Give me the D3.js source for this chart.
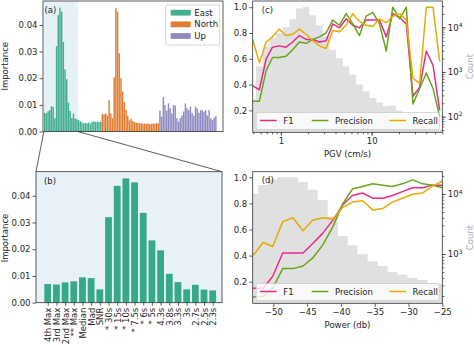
<!DOCTYPE html>
<html>
<head>
<meta charset="utf-8">
<script src="https://cdn.jsdelivr.net/npm/d3@7"></script>
<style>
  body { margin: 0; background: #fff; }
  svg text { font-family: "DejaVu Sans", sans-serif; fill: #262626; }
</style>
</head>
<body>
<svg width="474" height="345"></svg>
<script>
// feature importance, 34 features per component
var eastImp = [0.0070, 0.0068, 0.0076, 0.0080, 0.0095, 0.0092, 0.0050, 0.0320, 0.0437, 0.0465,
               0.0450, 0.0336, 0.0233, 0.0196, 0.0108, 0.0077, 0.0050, 0.0067, 0.0049, 0.0046,
               0.0043, 0.0038, 0.0035, 0.0030, 0.0033, 0.0031, 0.0034, 0.0029, 0.0036, 0.0038,
               0.0035, 0.0037, 0.0036, 0.0037];
var northImp = [0.0066, 0.0064, 0.0068, 0.0060, 0.0118, 0.0068, 0.0050, 0.0204, 0.0463, 0.0450,
                0.0294, 0.0200, 0.0150, 0.0110, 0.0080, 0.0060, 0.0042, 0.0048, 0.0040, 0.0035,
                0.0033, 0.0032, 0.0030, 0.0031, 0.0029, 0.0030, 0.0028, 0.0031, 0.0027, 0.0029,
                0.0030, 0.0028, 0.0032, 0.0030];
var upImp = [0.0078, 0.0056, 0.0129, 0.0100, 0.0078, 0.0106, 0.0087, 0.0068, 0.0100, 0.0097,
             0.0050, 0.0037, 0.0050, 0.0060, 0.0075, 0.0105, 0.0087, 0.0080, 0.0093, 0.0070,
             0.0060, 0.0093, 0.0087, 0.0070, 0.0080, 0.0080, 0.0075, 0.0080, 0.0060, 0.0080,
             0.0050, 0.0043, 0.0052, 0.0058];
var components = ["East", "North", "Up"];
// names of the first 20 east features (zoomed panel)
var featNames = ["4th Max", "3rd Max", "2nd Max", "** Max", "Median", "Mad", "SNR",
                 "* 30s", "* 15s", "* 10s", "* 7.5s", "* 6s", "* 5s", "4.3s", "3.8s",
                 "3.3s", "3s", "2.7s", "2.5s", "2.3s"];

// scores against PGV (cm/s)
var pgvBins = [0.49, 0.58, 0.69, 0.81, 0.96, 1.14, 1.35, 1.6, 1.9, 2.25, 2.66, 3.15, 3.73, 4.42, 5.24,
               6.2, 7.35, 8.7, 10.3, 12.2, 14.5, 17.1, 20.3, 24.1, 28.5, 33.8, 40, 47.4, 56.1];
var pgvCount = [245, 1350, 3700, 5750, 7400, 10200, 15100, 26300, 28800, 18600, 11200, 6200, 3160, 2040, 1350,
                870, 525, 370, 263, 204, 174, 178, 135, 112, 95, 74, 62, 58, 52];
var pgvF1 = [0.39, 0.36, 0.60, 0.69, 0.70, 0.69, 0.73, 0.78, 0.75, 0.75, 0.73, 0.74, 0.87, 0.84, 0.91,
             0.86, 0.84, 0.90, 0.90, 0.90, 0.77, 0.95, 0.92, 0.87, 0.31, 0.38, 0.66, 0.55, 0.20];
var pgvPrecision = [0.27, 0.27, 0.51, 0.61, 0.61, 0.62, 0.67, 0.73, 0.72, 0.75, 0.77, 0.80, 0.90, 0.86, 0.95,
                    0.87, 0.78, 0.93, 0.96, 0.87, 0.66, 1.00, 0.91, 1.00, 0.25, 0.37, 0.49, 0.37, 0.15];
var pgvRecall = [0.75, 0.57, 0.73, 0.77, 0.83, 0.78, 0.79, 0.83, 0.79, 0.74, 0.70, 0.68, 0.82, 0.81, 0.86,
                 0.95, 0.89, 0.86, 0.85, 0.91, 0.88, 0.93, 0.95, 0.90, 0.45, 0.41, 1.00, 1.00, 0.58];

// scores against signal power (db)
var powerBins = [-53.0, -51.5, -50.1, -48.6, -47.1, -45.6, -44.2, -42.7, -41.2, -39.7,
                 -38.3, -36.8, -35.3, -33.8, -32.4, -30.9, -29.4, -27.9, -26.5, -25.0];
var powerCount = [10000, 14100, 17400, 19000, 19000, 15800, 11700, 7900, 4200, 2000,
                  1400, 1000, 760, 630, 500, 450, 400, 370, 330, 320];
var powerF1 = [0.15, 0.15, 0.24, 0.42, 0.42, 0.42, 0.49, 0.57, 0.67, 0.79,
               0.86, 0.88, 0.84, 0.84, 0.86, 0.89, 0.92, 0.92, 0.94, 0.94];
var powerPrecision = [0.085, 0.085, 0.15, 0.30, 0.30, 0.32, 0.38, 0.48, 0.62, 0.80,
                      0.91, 0.93, 0.95, 0.94, 0.93, 0.95, 0.98, 0.95, 0.94, 0.92];
var powerRecall = [0.40, 0.50, 0.47, 0.66, 0.69, 0.59, 0.67, 0.69, 0.68, 0.77,
                   0.81, 0.82, 0.75, 0.76, 0.81, 0.84, 0.87, 0.88, 0.93, 0.97];

var compColor = {East: "#1b9e77", North: "#d95f02", Up: "#7570b3"};
var scoreColor = {F1: "#e7298a", Precision: "#66a61e", Recall: "#e6ab02"};
var fs = 8.5;
var ink = "#333";

var svg = d3.select("svg");

function styleAxis(g) {
  g.attr("font-size", fs).attr("font-family", "DejaVu Sans, sans-serif");
  g.select(".domain").remove();
  g.selectAll(".tick line").attr("stroke", ink).attr("stroke-width", 0.8);
  g.selectAll(".tick text").attr("fill", "#262626");
}

function frame(x0, y0, x1, y1) {
  svg.append("rect")
    .attr("x", x0).attr("y", y0).attr("width", x1 - x0).attr("height", y1 - y0)
    .attr("fill", "none").attr("stroke", ink).attr("stroke-width", 0.8);
}

function sup(g) {
  g.selectAll(".tick text").each(function(d) {
    var t = d3.select(this);
    t.text("10");
    t.append("tspan").attr("dy", -3.5).attr("font-size", 6).text(Math.round(Math.log10(d)));
  });
}

// ---------- (a) all features ----------
var A = {l: 43, r: 223, t: 1, b: 131.5};
var allImp = [];
components.forEach(function(c, k) {
  var arr = [eastImp, northImp, upImp][k];
  arr.forEach(function(v, i) { allImp.push({comp: c, i: k * arr.length + i, v: v}); });
});
var xa = d3.scaleLinear().domain([-1, 105.2]).range([A.l, A.r]);
var ya = d3.scaleLinear().domain([0, 0.049]).range([A.b, A.t]);

svg.append("rect")
  .attr("x", xa(-0.5)).attr("y", A.t)
  .attr("width", xa(featNames.length - 0.5) - xa(-0.5)).attr("height", A.b - A.t)
  .attr("fill", "#e6f0f7");

svg.append("g").selectAll("rect").data(allImp).enter().append("rect")
  .attr("x", function(d) { return xa(d.i - 0.42); })
  .attr("width", xa(0.84) - xa(0))
  .attr("y", function(d) { return ya(d.v); })
  .attr("height", function(d) { return A.b - ya(d.v); })
  .attr("fill", function(d) { return compColor[d.comp]; })
  .attr("fill-opacity", 0.82);

svg.append("g").attr("transform", "translate(" + A.l + ",0)")
  .call(d3.axisLeft(ya).tickValues([0, 0.01, 0.02, 0.03, 0.04]).tickFormat(d3.format(".2f")).tickSize(3.5).tickPadding(2))
  .call(styleAxis);
frame(A.l, A.t, A.r, A.b);

svg.append("text").attr("x", 5).attr("y", (A.t + A.b) / 2).attr("font-size", fs)
  .attr("text-anchor", "middle").attr("dominant-baseline", "central")
  .attr("transform", "rotate(-90,5," + (A.t + A.b) / 2 + ")").text("Importance");
svg.append("text").attr("x", 44.5).attr("y", 12.5).attr("font-size", fs).text("(a)");

// legend
var lgA = svg.append("g");
lgA.append("rect").attr("x", 165.7).attr("y", 5).attr("width", 54).attr("height", 40).attr("rx", 2)
  .attr("fill", "#fff").attr("fill-opacity", 0.8).attr("stroke", "#ccc").attr("stroke-width", 0.8);
components.forEach(function(c, k) {
  var cy = 12.7 + k * 11.65;
  lgA.append("rect").attr("x", 170.7).attr("y", cy - 2.9).attr("width", 20).attr("height", 5.8)
    .attr("fill", compColor[c]).attr("fill-opacity", 0.82);
  lgA.append("text").attr("x", 194.3).attr("y", cy + 3).attr("font-size", fs).text(c);
});

// ---------- (b) zoom on first 20 east features ----------
var B = {l: 36, r: 222, t: 171.7, b: 302.7};
var xb = d3.scaleLinear().domain([-1.35, 20.07]).range([B.l, B.r]);
var yb = d3.scaleLinear().domain([0, 0.049]).range([B.b, B.t]);
var zoomed = eastImp.slice(0, featNames.length);

// connector lines from the shaded span
svg.append("line").attr("x1", xa(-0.5)).attr("y1", A.b).attr("x2", B.l).attr("y2", B.t)
  .attr("stroke", ink).attr("stroke-width", 0.8);
svg.append("line").attr("x1", xa(featNames.length - 0.5)).attr("y1", A.b).attr("x2", B.r).attr("y2", B.t)
  .attr("stroke", ink).attr("stroke-width", 0.8);

svg.append("rect").attr("x", B.l).attr("y", B.t).attr("width", B.r - B.l).attr("height", B.b - B.t)
  .attr("fill", "#e8f1f8");
svg.append("g").selectAll("rect").data(zoomed).enter().append("rect")
  .attr("x", function(d, i) { return xb(i - 0.39); })
  .attr("width", xb(0.78) - xb(0))
  .attr("y", function(d) { return yb(d); })
  .attr("height", function(d) { return B.b - yb(d); })
  .attr("fill", compColor.East).attr("fill-opacity", 0.88);

svg.append("g").attr("transform", "translate(" + B.l + ",0)")
  .call(d3.axisLeft(yb).tickValues([0, 0.01, 0.02, 0.03, 0.04]).tickFormat(d3.format(".2f")).tickSize(3.5).tickPadding(2))
  .call(styleAxis);
var xbAxis = svg.append("g").attr("transform", "translate(0," + B.b + ")")
  .call(d3.axisBottom(xb).tickValues(d3.range(featNames.length)).tickFormat(function(i) { return featNames[i]; })
    .tickSize(3).tickPadding(2))
  .call(styleAxis);
xbAxis.selectAll(".tick text")
  .attr("transform", "rotate(-90)").attr("text-anchor", "end")
  .attr("x", -5).attr("y", 0).attr("dy", "0.35em");
frame(B.l, B.t, B.r, B.b);

svg.append("text").attr("x", 5).attr("y", 238).attr("font-size", fs)
  .attr("text-anchor", "middle").attr("dominant-baseline", "central")
  .attr("transform", "rotate(-90,5,238)").text("Importance");
svg.append("text").attr("x", 44).attr("y", 183.5).attr("font-size", fs).text("(b)");

// ---------- score panels ----------
function scorePanel(P) {
  var clipId = "clip" + P.tag;
  svg.append("clipPath").attr("id", clipId).append("rect")
    .attr("x", P.l).attr("y", P.t).attr("width", P.r - P.l).attr("height", P.b - P.t);
  var plot = svg.append("g").attr("clip-path", "url(#" + clipId + ")");

  // histogram of sample counts on the twin log axis, drawn as one step outline
  var n = P.bins.length;
  var edges = [P.mid(P.bins[0], P.bins[0], -1, P.bins[1])];
  for (var i = 1; i < n; i++) edges.push(P.mid(P.bins[i - 1], P.bins[i], 0));
  edges.push(P.mid(P.bins[n - 1], P.bins[n - 1], 1, P.bins[n - 2]));
  var steps = P.count.map(function(c, i) { return [edges[i], c]; });
  steps.push([edges[n], P.count[n - 1]]);
  var area = d3.area().curve(d3.curveStepAfter)
    .x(function(d) { return P.x(d[0]); })
    .y0(P.b)
    .y1(function(d) { return P.y2(d[1]); });
  plot.append("path").datum(steps).attr("d", area).attr("fill", "#e0e0e0");

  var line = d3.line().x(function(d) { return P.x(d[0]); }).y(function(d) { return P.y(d[1]); });
  [["F1", P.f1], ["Precision", P.prec], ["Recall", P.rec]].forEach(function(s) {
    plot.append("path").datum(P.bins.map(function(b, i) { return [b, s[1][i]]; }))
      .attr("d", line).attr("fill", "none").attr("stroke", scoreColor[s[0]])
      .attr("stroke-width", 1.5).attr("stroke-linejoin", "round");
  });

  // legend
  var lg = svg.append("g");
  lg.append("rect").attr("x", P.l + 3.5).attr("y", P.lgy - 8).attr("width", P.r - P.l - 6.5).attr("height", 17).attr("rx", 2)
    .attr("fill", "#fff").attr("fill-opacity", 0.8).attr("stroke", "#ccc").attr("stroke-width", 0.8);
  [["F1", 260], ["Precision", 311.7], ["Recall", 389.3]].forEach(function(s) {
    lg.append("line").attr("x1", s[1]).attr("x2", s[1] + 16.7).attr("y1", P.lgy).attr("y2", P.lgy)
      .attr("stroke", scoreColor[s[0]]).attr("stroke-width", 1.5);
    lg.append("text").attr("x", s[1] + 23.3).attr("y", P.lgy + 3).attr("font-size", fs).text(s[0]);
  });

  svg.append("g").attr("transform", "translate(" + P.l + ",0)")
    .call(d3.axisLeft(P.y).tickValues([0.2, 0.4, 0.6, 0.8, 1.0]).tickFormat(d3.format(".1f")).tickSize(3.5).tickPadding(2))
    .call(styleAxis);

  var dom2 = P.y2.domain();
  var minor2 = P.y2.ticks().filter(function(v) { return v >= dom2[0] && v <= dom2[1]; });
  svg.append("g").attr("transform", "translate(" + P.r + ",0)")
    .call(d3.axisRight(P.y2).tickValues(minor2).tickFormat("").tickSize(2))
    .call(styleAxis);
  svg.append("g").attr("transform", "translate(" + P.r + ",0)")
    .call(d3.axisRight(P.y2).tickValues(P.major2).tickSize(3.5).tickPadding(2))
    .call(styleAxis).call(sup);

  P.xAxis(svg.append("g").attr("transform", "translate(0," + P.b + ")"));
  frame(P.l, P.t, P.r, P.b);

  svg.append("text").attr("x", (P.l + P.r) / 2).attr("y", P.b + 25).attr("font-size", fs)
    .attr("text-anchor", "middle").text(P.xlabel);
  var cy = (P.t + P.b) / 2;
  svg.append("text").attr("x", 470).attr("y", cy).attr("font-size", fs)
    .style("fill", "#aaa")
    .attr("text-anchor", "middle").attr("dominant-baseline", "central")
    .attr("transform", "rotate(-90,470," + cy + ")").text("Count");
  svg.append("text").attr("x", P.l + 9).attr("y", P.t + 11.5).attr("font-size", fs).text("(" + P.tag + ")");
}

// (c) against PGV, log x
var C = {tag: "c", l: 252.7, r: 442.3, t: 1, b: 132.3};
C.x = d3.scaleLog().domain([0.49, 60]).range([C.l, C.r]);
C.y = d3.scaleLinear().domain([0.03, 1.048]).range([C.b, C.t]);
C.y2 = d3.scaleLog().domain([Math.pow(10, 1.65), Math.pow(10, 4.59)]).range([C.b, C.t]);
C.major2 = [100, 1000, 10000];
C.bins = pgvBins; C.count = pgvCount; C.f1 = pgvF1; C.prec = pgvPrecision; C.rec = pgvRecall;
C.lgy = 120.5; C.xlabel = "PGV (cm/s)";
C.mid = function(a, b, side, other) {
  if (side === 0) return Math.sqrt(a * b);
  var r = Math.sqrt(Math.max(a, other) / Math.min(a, other));
  return side < 0 ? a / r : a * r;
};
C.xAxis = function(g) {
  var dom = C.x.domain();
  var minor = C.x.ticks().filter(function(v) { return v >= dom[0] && v <= dom[1]; });
  g.call(d3.axisBottom(C.x).tickValues(minor).tickFormat("").tickSize(2)).call(styleAxis);
  g.append("g").call(d3.axisBottom(C.x).tickValues([1, 10]).tickFormat(d3.format("d")).tickSize(3.5).tickPadding(2))
    .call(styleAxis);
};
scorePanel(C);

// (d) against power, linear x
var D = {tag: "d", l: 252.7, r: 442.3, t: 171.7, b: 303.3};
D.x = d3.scaleLinear().domain([-53.05, -25]).range([D.l, D.r]);
D.y = d3.scaleLinear().domain([0.034, 1.043]).range([D.b, D.t]);
D.y2 = d3.scaleLog().domain([Math.pow(10, 2.18), Math.pow(10, 4.37)]).range([D.b, D.t]);
D.major2 = [1000, 10000];
D.bins = powerBins; D.count = powerCount; D.f1 = powerF1; D.prec = powerPrecision; D.rec = powerRecall;
D.lgy = 291.5; D.xlabel = "Power (db)";
D.mid = function(a, b, side, other) {
  if (side === 0) return (a + b) / 2;
  var h = Math.abs(a - other) / 2;
  return side < 0 ? a - h : a + h;
};
D.xAxis = function(g) {
  g.call(d3.axisBottom(D.x).tickValues([-50, -45, -40, -35, -30, -25])
    .tickFormat(function(v) { return String(v).replace("-", "\u2212"); }).tickSize(3.5).tickPadding(2))
    .call(styleAxis);
};
scorePanel(D);
</script>
</body>
</html>
